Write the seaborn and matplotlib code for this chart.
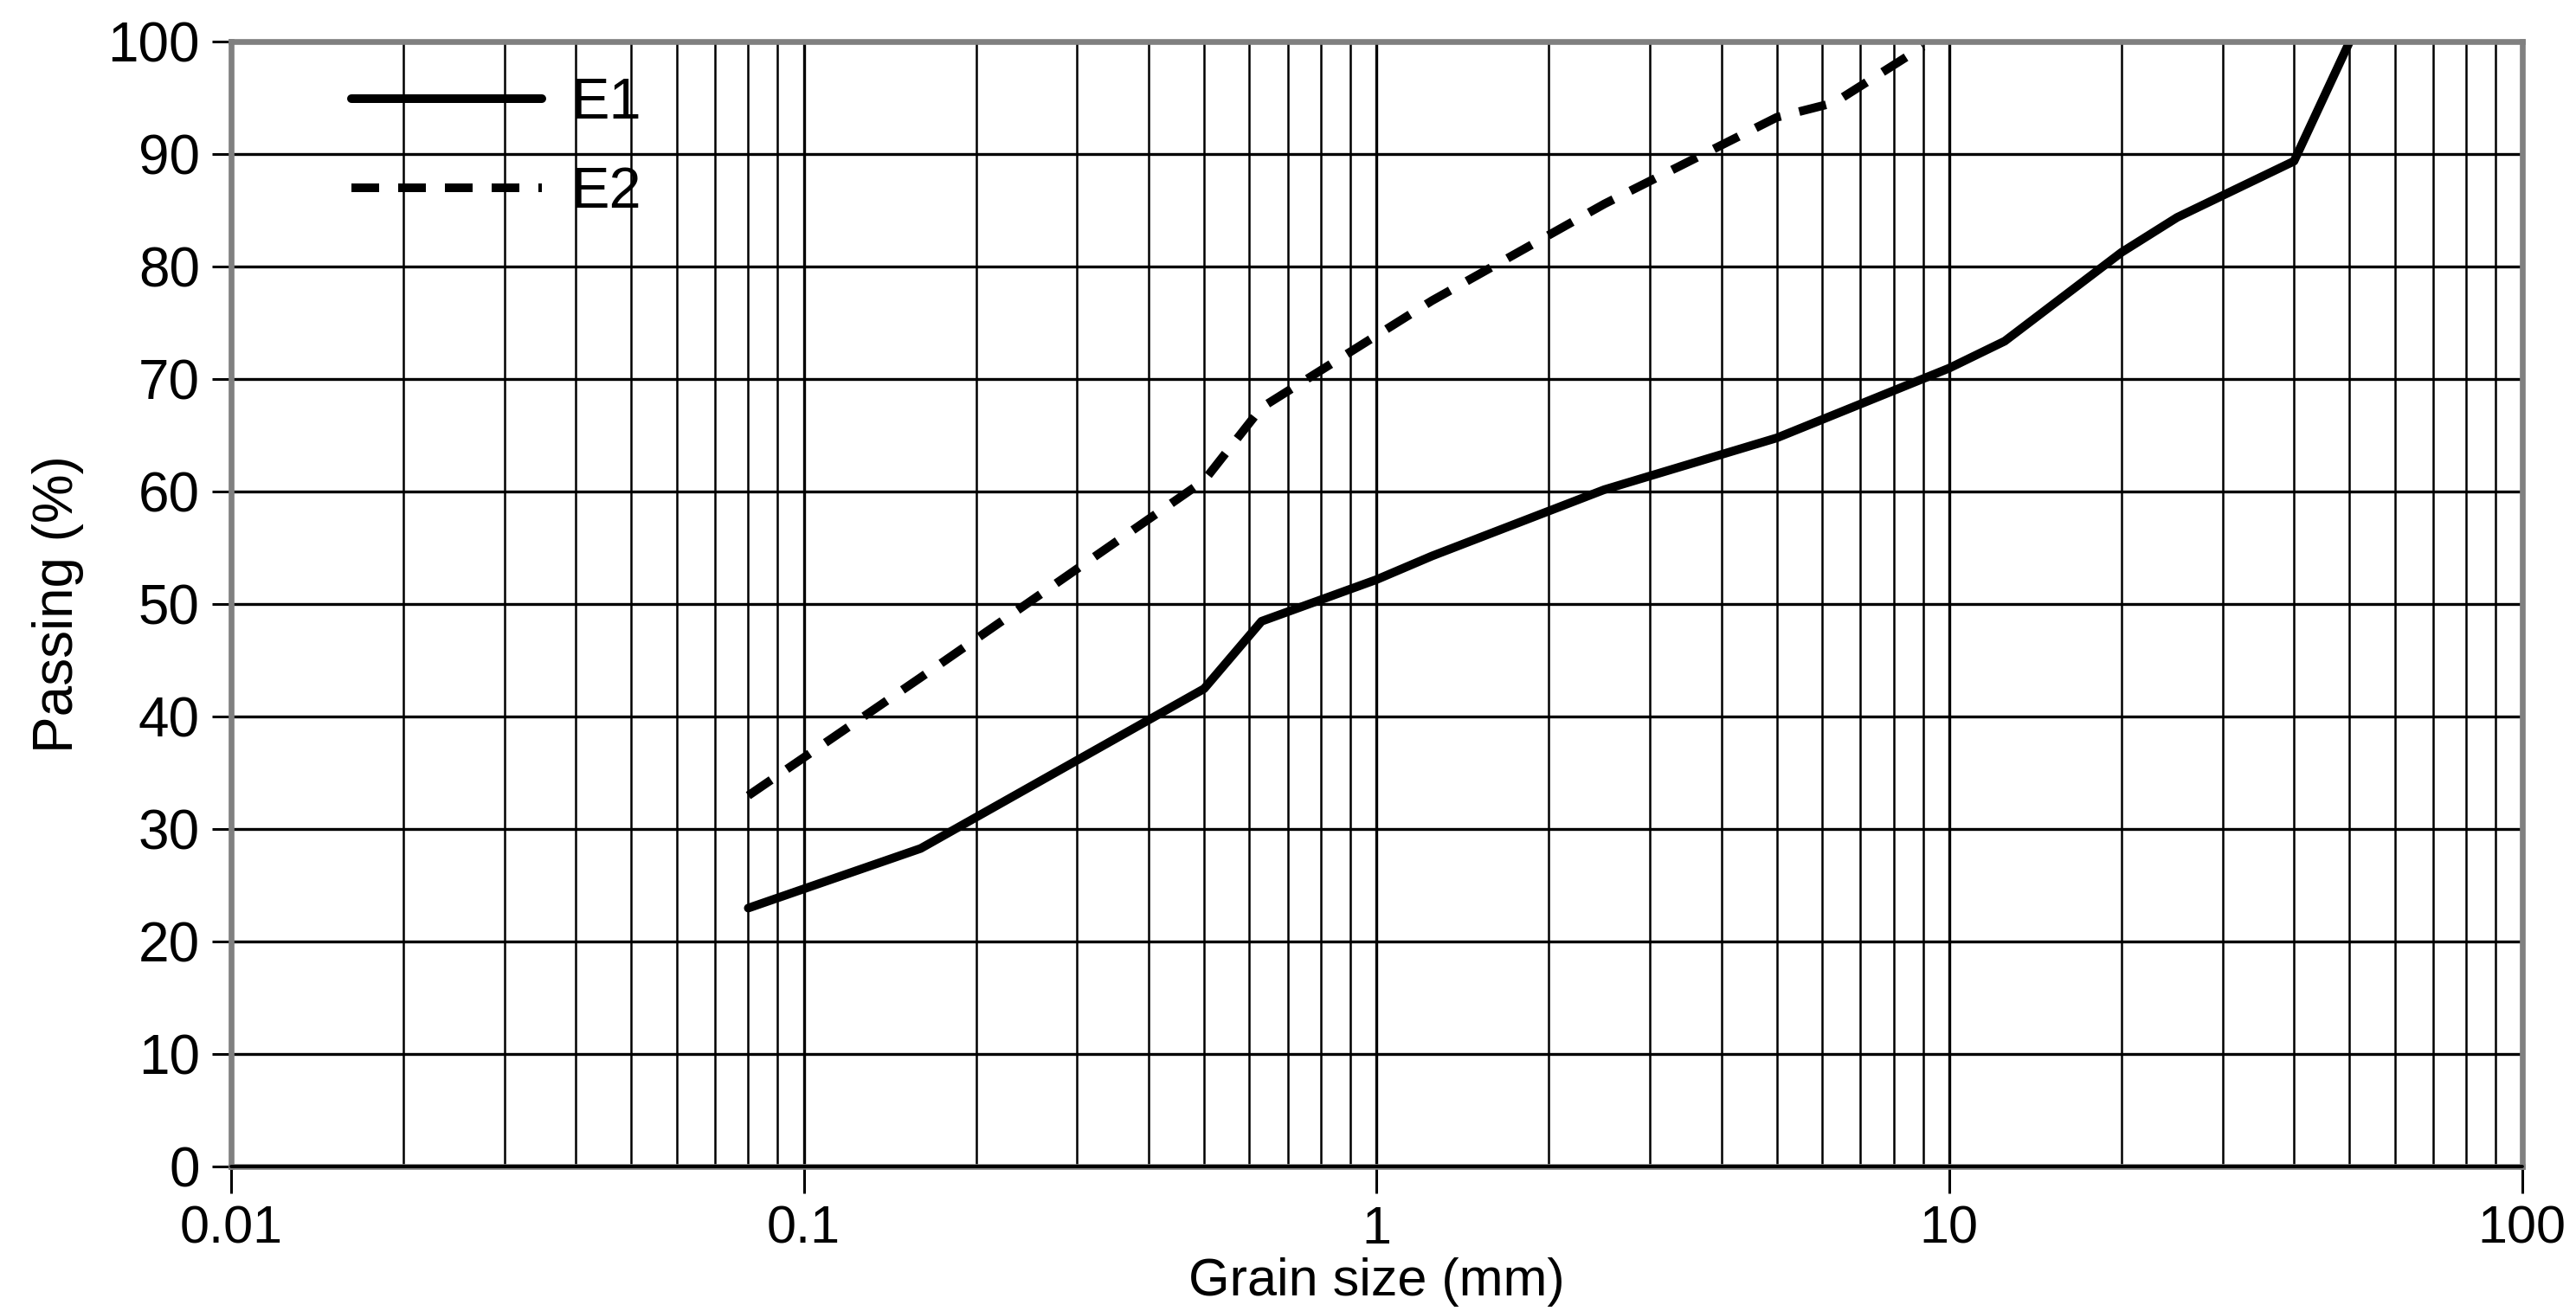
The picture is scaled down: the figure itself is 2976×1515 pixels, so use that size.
import matplotlib
matplotlib.use("Agg")
import matplotlib.pyplot as plt
import seaborn as sns
import pandas as pd
import numpy as np
from matplotlib.ticker import LogLocator, NullFormatter, FixedLocator

# ---- data ----
e1_size = [0.08, 0.16, 0.5, 0.63, 1.0, 1.25, 2.5, 5, 10, 12.5, 20, 25, 40, 50]
e1_pass = [23.0, 28.3, 42.5, 48.5, 52.2, 54.3, 60.2, 64.8, 71.0, 73.4, 81.3, 84.4, 89.4, 100.0]
e2_size = [0.08, 0.16, 0.5, 0.63, 1.25, 2.5, 5, 6.3, 9]
e2_pass = [33.0, 43.5, 61.0, 67.5, 77.0, 85.6, 93.3, 94.6, 99.6]
series_names = ["E1", "E2"]
x_ticks = [0.01, 0.1, 1, 10, 100]
x_ticklabels = ["0.01", "0.1", "1", "10", "100"]
y_ticks = list(range(0, 101, 10))

df = pd.concat([
    pd.DataFrame({"size": e1_size, "passing": e1_pass, "series": series_names[0]}),
    pd.DataFrame({"size": e2_size, "passing": e2_pass, "series": series_names[1]}),
])

sns.set_theme(style="white")
plt.rcParams['font.family'] = ['Liberation Sans', 'DejaVu Sans']
plt.rcParams.update({"text.color": "black", "axes.labelcolor": "black",
                     "xtick.color": "black", "ytick.color": "black"})

fig = plt.figure(figsize=(14.88, 7.575), dpi=200)
ax = fig.add_axes([0.0897, 0.110, 0.8893, 0.858])

sns.lineplot(data=df, x="size", y="passing", style="series", color="black",
             dashes={"E1": "", "E2": (3.2, 2.2)}, linewidth=3.6, ax=ax,
             sort=False, estimator=None, zorder=3)

ax.set_xscale("log")
ax.set_xlim(0.01, 100)
ax.set_ylim(0, 100)

ax.xaxis.set_major_locator(FixedLocator(x_ticks))
ax.set_xticklabels(x_ticklabels)
ax.xaxis.set_minor_locator(LogLocator(base=10, subs=np.arange(2, 10)))
ax.xaxis.set_minor_formatter(NullFormatter())
ax.set_yticks(y_ticks)

ax.grid(True, which="major", axis="both", color="black", linewidth=1.2)
ax.grid(True, which="minor", axis="x", color="black", linewidth=0.9)
ax.set_axisbelow(True)

for s in ax.spines.values():
    s.set_color("#808080")
    s.set_linewidth(2.4)
    s.set_zorder(5)
ax.axhline(0, color="black", linewidth=1.4, zorder=6, clip_on=False)

ax.tick_params(axis="x", which="major", direction="out", length=11, width=1.1,
               color="black", labelcolor="black", labelsize=22, pad=5, bottom=True)
ax.tick_params(axis="x", which="minor", length=0)
ax.tick_params(axis="y", which="major", direction="out", length=8, width=1.1,
               color="black", labelcolor="black", labelsize=23, pad=5, left=True)

ax.set_xlabel("Grain size (mm)", fontsize=22, labelpad=1, color="black")
ax.set_ylabel("Passing (%)", fontsize=23, labelpad=10, color="black")

leg = ax.legend(loc="upper left", frameon=False, fontsize=24, handlelength=3.3,
                handletextpad=0.5, labelspacing=0.62, bbox_to_anchor=(0.03, 1.015))
for h in leg.get_lines():
    h.set_linewidth(3.6)
    h.set_color("black")
for t in leg.get_texts():
    t.set_color("black")

fig.savefig("out.png", dpi=200, facecolor="white")
